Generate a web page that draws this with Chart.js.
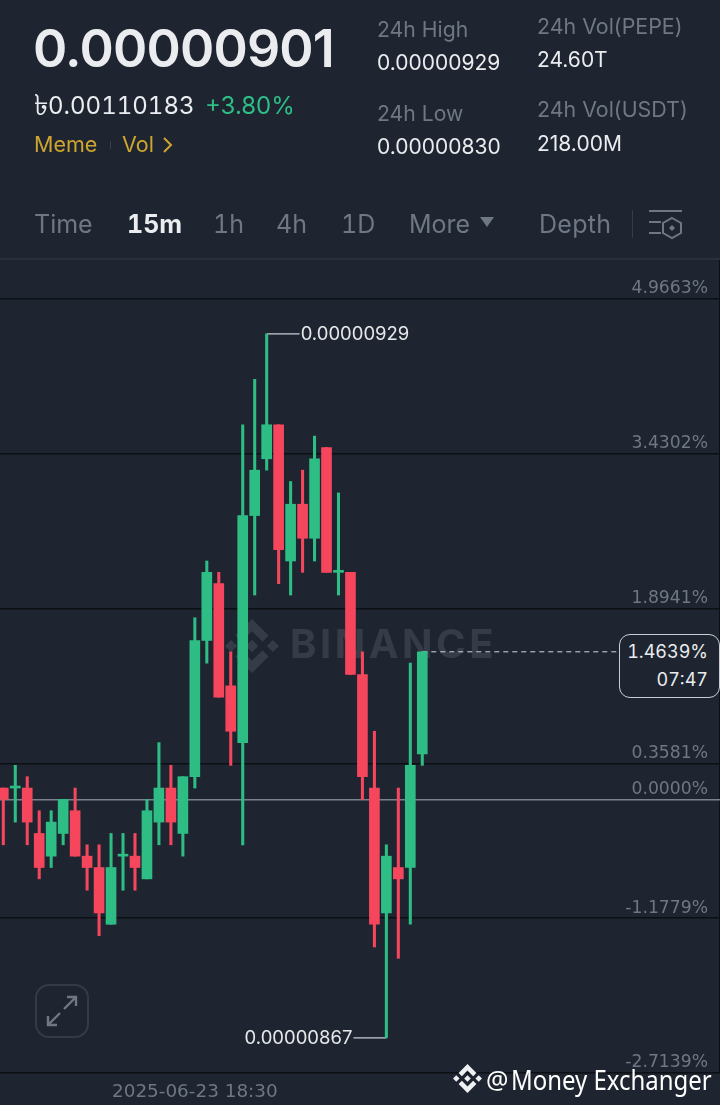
<!DOCTYPE html>
<html><head><meta charset="utf-8">
<script src="https://cdn.jsdelivr.net/npm/chart.js@4/dist/chart.umd.min.js"></script>
<style>
html,body{margin:0;padding:0;background:#1e2530;width:720px;height:1105px;overflow:hidden}
body{position:relative;font-family:Inter,"Noto Sans",sans-serif}
canvas{position:absolute;left:0;top:0}
.t{position:absolute;white-space:nowrap;line-height:1;transform:translateY(-50%)}
.g{color:#6f7785}.w{color:#eaecef}.y{color:#cfa52f}
svg{position:absolute}
</style></head><body>
<canvas id="c" width="720" height="1105"></canvas>

<div class="t w" style="left:33px;top:49px;font-size:52px;font-weight:600;letter-spacing:-.8px">0.00000901</div>
<div class="t w" style="left:34px;top:106px;font-size:24px;font-variant-numeric:tabular-nums"><span style="font-size:29px;line-height:20px;vertical-align:-1px">৳</span>0.00110183</div>
<div class="t" style="left:205px;top:106px;font-size:24px;color:#2ebd85">+3.80%</div>
<div class="t y" style="left:34px;top:145px;font-size:21.5px">Meme</div>
<div class="t y" style="left:122px;top:145px;font-size:21.5px">Vol</div>
<svg style="left:160px;top:135px" width="16" height="20"><path d="M4 3l7 7-7 7" fill="none" stroke="#cfa52f" stroke-width="2"/></svg>
<div style="position:absolute;left:110px;top:141px;width:1px;height:8px;background:#3a414d"></div>

<div class="t g" style="left:377px;top:30px;font-size:21.2px">24h High</div>
<div class="t w" style="left:377px;top:62px;font-size:21px">0.00000929</div>
<div class="t g" style="left:377px;top:114px;font-size:21.2px">24h Low</div>
<div class="t w" style="left:377px;top:146px;font-size:21px">0.00000830</div>
<div class="t g" style="left:537px;top:27px;font-size:21.4px">24h Vol(PEPE)</div>
<div class="t w" style="left:537px;top:59px;font-size:21px">24.60T</div>
<div class="t g" style="left:537px;top:110px;font-size:21.4px">24h Vol(USDT)</div>
<div class="t w" style="left:537px;top:143px;font-size:21px">218.00M</div>

<div class="t g" style="left:34px;top:224px;font-size:25px">Time</div>
<div class="t w" style="left:127px;top:224px;font-size:25px;font-weight:700;font-variant-numeric:tabular-nums">15m</div>
<div class="t g" style="left:213px;top:224px;font-size:25px;font-variant-numeric:tabular-nums">1h</div>
<div class="t g" style="left:276px;top:224px;font-size:25px">4h</div>
<div class="t g" style="left:341px;top:224px;font-size:25px;font-variant-numeric:tabular-nums">1D</div>
<div class="t g" style="left:409px;top:224px;font-size:25px">More</div>
<svg style="left:478px;top:215px" width="18" height="14"><path d="M2 2h14l-7 10z" fill="#6f7785"/></svg>
<div class="t g" style="left:539px;top:224px;font-size:25px;letter-spacing:.3px">Depth</div>
<div style="position:absolute;left:632px;top:210px;width:1px;height:28px;background:#363c47"></div>
<svg style="left:647px;top:208px" width="36" height="32" fill="none" stroke="#6f7785" stroke-width="2"><path d="M2 3h33M2 14h12M2 25h12"/><path d="M25 10l9 5v10l-9 5-9-5V15z"/><path d="M25 17l3 3-3 3-3-3z" fill="#6f7785" stroke="none"/></svg>
<div style="position:absolute;left:0;top:258px;width:720px;height:2px;background:#2a303a"></div>

<div style="position:absolute;left:619px;top:634px;width:99px;height:62px;border:1.5px solid #c9ced6;border-radius:11px;background:#1e2530"></div>
<div class="t w" style="right:12px;top:652px;font-size:18px;font-variant-numeric:tabular-nums">1.4639%</div>
<div class="t w" style="right:12px;top:680px;font-size:18px;font-variant-numeric:tabular-nums">07:47</div>

<svg style="left:35px;top:984px" width="54" height="54" fill="none"><rect x="1" y="1" width="52" height="52" rx="13" stroke="#343b46" stroke-width="2"/><path d="M13 41L25 29M41 13L29 25M32 13h9v9M13 32v9h9" stroke="#6f7785" stroke-width="2.4"/></svg>

<svg style="left:453px;top:1064px" width="29" height="29" viewBox="0 0 126.61 126.61" fill="#eef0f2"><path d="M38.73 53.2L63.3 28.63l24.59 24.58 14.3-14.3L63.3 0 24.43 38.88z"/><path d="M0 63.31l14.3-14.31 14.31 14.31-14.31 14.3z"/><path d="M38.73 73.41L63.3 97.99l24.59-24.59 14.31 14.29-38.9 38.91-38.86-38.86z"/><path d="M97.99 63.31l14.3-14.31 14.32 14.31-14.31 14.3z"/><path d="M77.83 63.3L63.3 48.76 52.57 59.49l-1.24 1.24-2.54 2.54 14.51 14.5 14.53-14.47z"/></svg>
<div class="t" style="left:486px;top:1079px;font-size:25px;color:#fff;font-family:'Noto Sans'">@</div>
<div class="t" style="left:511px;top:1079px;font-size:28px;color:#fff;font-family:'Noto Sans';transform:translateY(-50%) scaleX(.855);transform-origin:left center">Money Exchanger</div>

<script>
// prices in units of 0.00000001 USDT, one candle every 15 minutes
const times = ["14:30","14:45","15:00","15:15","15:30","15:45","16:00","16:15","16:30","16:45","17:00","17:15","17:30","17:45","18:00","18:15","18:30","18:45","19:00","19:15","19:30","19:45","20:00","20:15","20:30","20:45","21:00","21:15","21:30","21:45","22:00","22:15","22:30","22:45","23:00","23:15"];
const opens  = [889,889,889,885,883,885,887,883,882,877,883,883,881,886,889,885,890,902,907,898,893,913,918,921,909,914,911,919,908,908,899,889,878,882,882,892];
const closes = [888,889,886,882,886,888,883,882,878,882,883,882,887,889,886,890,902,908,897,894,913,917,921,910,914,911,918,908,908,899,890,877,883,881,891,901];
const highs  = [889,891,890,887,887,888,889,884,884,885,885,885,888,893,891,890,904,909,908,901,921,925,929,921,916,917,920,919,915,908,901,894,884,889,900,901];
const lows   = [884,886,884,881,882,884,883,880,876,877,880,880,881,884,884,883,889,900,897,891,884,906,917,907,906,908,909,908,906,899,888,875,867,874,877,891];
const basePrice = 888;
const levelPct = [4.9663,3.4302,1.8941,0.3581,0,-1.1779,-2.7139];
const levelLabels = ["4.9663%","3.4302%","1.8941%","0.3581%","0.0000%","-1.1779%","-2.7139%"];
const crossIndex = 16;
const crossLabel = "2025-06-23 18:30";
const highLabel = "0.00000929", lowLabel = "0.00000867";
const lastPrice = 901;

const UP="#2ebd85", DOWN="#f6465d", GRID="#0c0f13", ZERO="#7b828e", AXIS="#6f7785";
const idx = times.map((_,i)=>i);
const colours = idx.map(i=>closes[i]>=opens[i]?UP:DOWN);
const hi = highs.indexOf(Math.max(...highs)), lo = lows.indexOf(Math.min(...lows));

const logo = ["M38.73 53.2L63.3 28.63l24.59 24.58 14.3-14.3L63.3 0 24.43 38.88z","M0 63.31l14.3-14.31 14.31 14.31-14.31 14.3z","M38.73 73.41L63.3 97.99l24.59-24.59 14.31 14.29-38.9 38.91-38.86-38.86z","M97.99 63.31l14.3-14.31 14.32 14.31-14.31 14.3z","M77.83 63.3L63.3 48.76 52.57 59.49l-1.24 1.24-2.54 2.54 14.51 14.5 14.53-14.47z"];

const decor = {
  id:"decor",
  beforeDatasetsDraw(c){
    const x=c.ctx; x.save(); x.fillStyle="#363c47";
    x.translate(225,619); x.scale(54/126.61,54/126.61);
    logo.forEach(p=>x.fill(new Path2D(p)));
    x.restore(); x.save();
    x.fillStyle="#363c47"; x.font="700 40px Inter"; x.textBaseline="middle";
    x.letterSpacing="3.5px"; x.fillText("BINANCE",290,646); x.restore();
  },
  afterDatasetsDraw(c){
    const x=c.ctx, sx=c.scales.x, sy=c.scales.y; x.save();
    x.fillStyle="#e6e8ea"; x.font="18.5px Inter"; x.textBaseline="middle";
    x.textAlign="left"; x.fillText(highLabel,sx.getPixelForValue(hi)+34,sy.getPixelForValue(highs[hi])+1);
    x.textAlign="right"; x.fillText(lowLabel,sx.getPixelForValue(lo)-34,sy.getPixelForValue(lows[lo])+1);
    x.restore();
  }
};

new Chart(document.getElementById("c"),{
  data:{datasets:[
    {type:"bar",label:"wick",grouped:false,barThickness:2.4,backgroundColor:colours,data:idx.map(i=>({x:i,y:[lows[i],highs[i]]}))},
    {type:"bar",label:"body",grouped:false,barThickness:10,minBarLength:2,backgroundColor:colours,data:idx.map(i=>({x:i,y:[opens[i],closes[i]]}))},
    {type:"line",label:"high",borderColor:"#c9ced6",borderWidth:1.3,pointRadius:0,data:[{x:hi,y:highs[hi]},{x:hi+2.75,y:highs[hi]}]},
    {type:"line",label:"low",borderColor:"#c9ced6",borderWidth:1.3,pointRadius:0,data:[{x:lo,y:lows[lo]},{x:lo-2.75,y:lows[lo]}]},
    {type:"line",label:"last",borderColor:"#d5d9de",borderWidth:1,borderDash:[5,4],pointRadius:0,data:[{x:idx.length-1,y:lastPrice},{x:51.4,y:lastPrice}]}
  ]},
  plugins:[decor],
  options:{
    responsive:false,animation:false,devicePixelRatio:1,
    layout:{padding:{top:259,left:0,right:0,bottom:0}},
    plugins:{legend:{display:false},tooltip:{enabled:false}},
    scales:{
      x:{type:"linear",offset:false,min:-0.276,max:59.87,position:"bottom",
        afterFit:s=>{s.height=32},
        afterBuildTicks:s=>{s.ticks=[{value:crossIndex}]},
        border:{display:false},
        grid:{color:GRID,lineWidth:1.5,drawTicks:false},
        ticks:{autoSkip:false,maxRotation:0,padding:8,color:AXIS,font:{family:"DejaVu Sans",size:18.4},callback:()=>crossLabel}},
      y:{type:"linear",min:863.9,max:935.6,position:"right",
        afterFit:s=>{s.width=0},
        afterBuildTicks:s=>{s.ticks=levelPct.map(p=>({value:basePrice*(1+p/100)}))},
        border:{display:false},
        grid:{color:c=>Math.abs(c.tick.value-basePrice)<1e-6?ZERO:GRID,lineWidth:1.5,drawTicks:false},
        ticks:{autoSkip:false,mirror:true,padding:-12,labelOffset:-10,color:AXIS,font:{family:"DejaVu Sans",size:17.2},callback:(v,i)=>levelLabels[i]}}
    }
  }
});
</script>
</body></html>
